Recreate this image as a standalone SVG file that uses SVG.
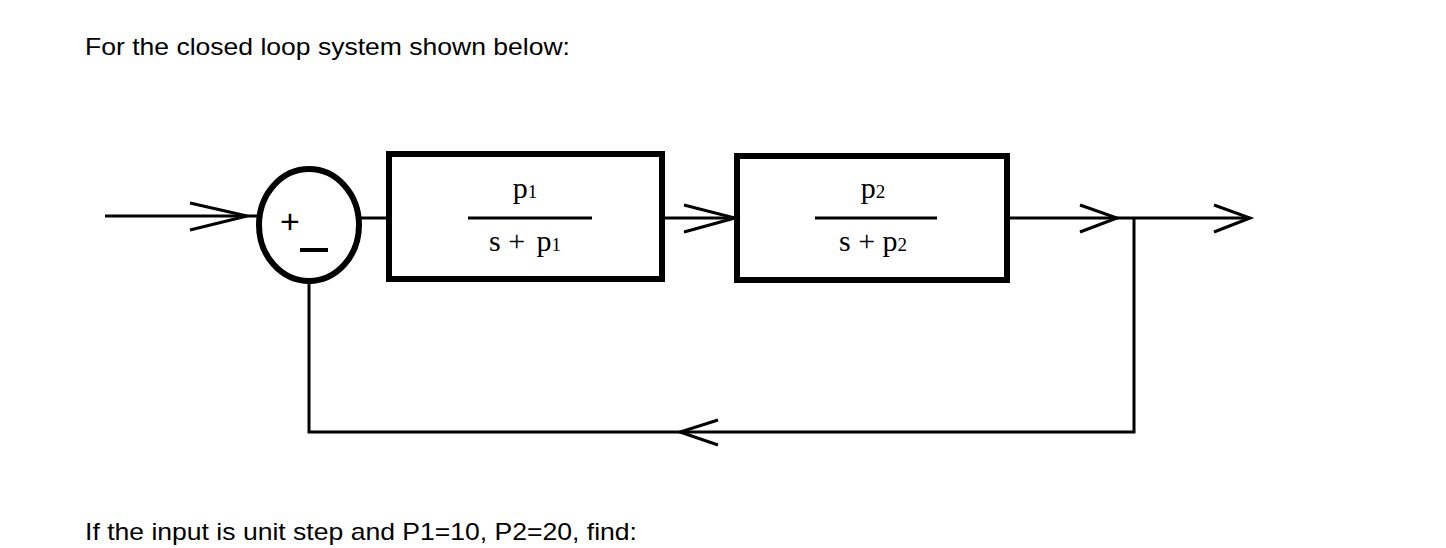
<svg xmlns="http://www.w3.org/2000/svg" width="1446" height="548" viewBox="0 0 1446 548">
<style>
.t{font-family:"Liberation Sans",Arial,sans-serif;font-size:24px;fill:#000}
.m{font-family:"Liberation Serif","Times New Roman",serif;font-size:30px;fill:#000;text-anchor:middle}
.sub{font-size:19px}
.blk{fill:none;stroke:#000;stroke-width:6}
.ln{fill:none;stroke:#000;stroke-width:3}
.ah{fill:none;stroke:#000;stroke-width:3}
</style>
<rect width="1446" height="548" fill="#fff"/>
<text class="t" x="85" y="55" textLength="485" lengthAdjust="spacingAndGlyphs">For the closed loop system shown below:</text>
<text class="t" x="85" y="540" textLength="552" lengthAdjust="spacingAndGlyphs">If the input is unit step and P1=10, P2=20, find:</text>
<g id="sum">
<ellipse class="blk" cx="309" cy="225" rx="50" ry="56"/>
<text x="290" y="233" font-family="Liberation Sans,Arial,sans-serif" font-size="34" text-anchor="middle">+</text>
<line x1="300" y1="250" x2="328" y2="250" stroke="#000" stroke-width="4"/>
</g>
<g id="block1">
<rect class="blk" x="389" y="154" width="273" height="125"/>
<text class="m" x="525" y="198">p<tspan class="sub">1</tspan></text>
<line x1="468" y1="218" x2="592" y2="218" stroke="#000" stroke-width="3"/>
<text class="m" x="525" y="251">s + <tspan dx="4">p</tspan><tspan class="sub">1</tspan></text>
</g>
<g id="block2">
<rect class="blk" x="737" y="156" width="270" height="124"/>
<text class="m" x="873" y="198">p<tspan class="sub">2</tspan></text>
<line x1="815" y1="218" x2="937" y2="218" stroke="#000" stroke-width="3"/>
<text class="m" x="873" y="251">s + p<tspan class="sub">2</tspan></text>
</g>
<g id="connectors">
<line class="ln" x1="105" y1="216" x2="259" y2="216"/>
<polyline class="ah" points="190,203 247,216 190,230"/>
<line class="ln" x1="359" y1="218" x2="389" y2="218"/>
<line class="ln" x1="662" y1="218" x2="737" y2="218"/>
<polyline class="ah" points="684,205 735,218 684,232"/>
<line class="ln" x1="1007" y1="218" x2="1250" y2="218"/>
<polyline class="ah" points="1080,205 1117,218 1080,232"/>
<polyline class="ah" points="1214,205 1250,218 1214,232"/>
<polyline class="ln" points="1134,218 1134,432 309,432 309,281"/>
<polyline class="ah" points="718,420 680,432 718,445"/>
</g>
</svg>
